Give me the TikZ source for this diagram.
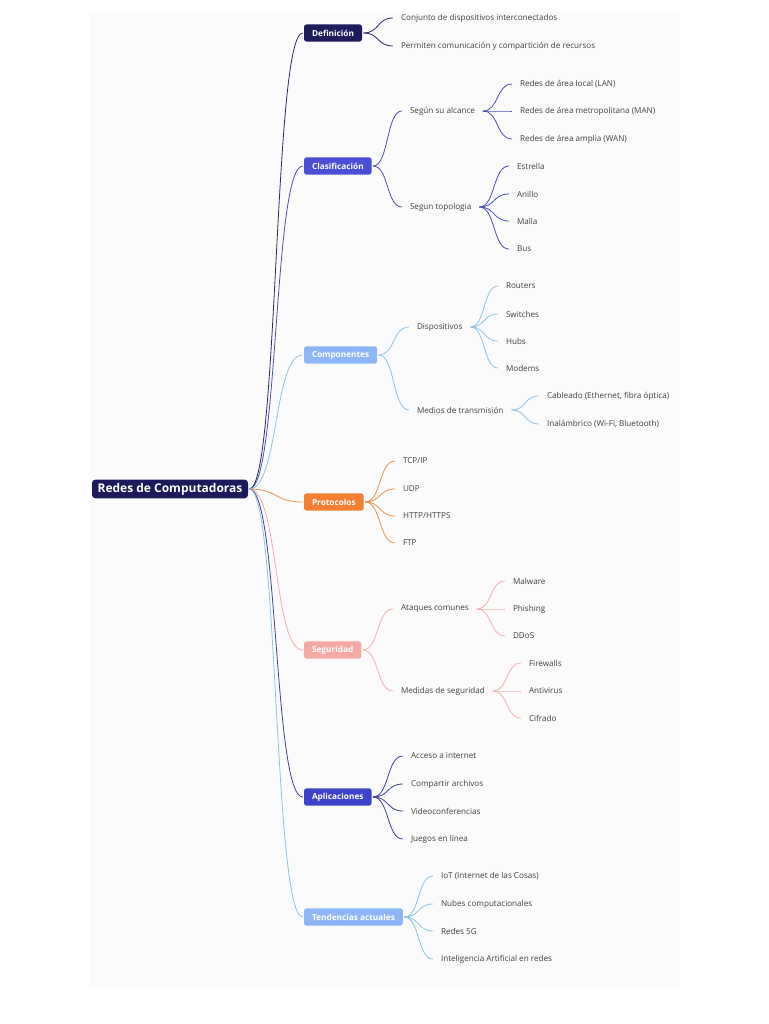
\documentclass[tikz,border=0pt]{standalone}
\usepackage{fontspec}
\setmainfont{Open Sans}
\usetikzlibrary{calc}
\definecolor{rootc}{HTML}{1C1A5A}
\definecolor{defc}{HTML}{1F1C5E}
\definecolor{defl}{HTML}{2A2860}
\definecolor{clac}{HTML}{4A4ED4}
\definecolor{clal}{HTML}{4A4EB8}
\definecolor{comc}{HTML}{8DB6F7}
\definecolor{coml}{HTML}{8FC4E6}
\definecolor{proc}{HTML}{F47F33}
\definecolor{prol}{HTML}{EE9350}
\definecolor{segc}{HTML}{F5A9A3}
\definecolor{segl}{HTML}{F0B2AA}
\definecolor{aplc}{HTML}{3D43C8}
\definecolor{apll}{HTML}{3C3F9C}
\definecolor{tenc}{HTML}{8DB6F7}
\definecolor{tenl}{HTML}{8CC4E0}
\definecolor{txt}{HTML}{404040}
\definecolor{bgc}{HTML}{FBFBFB}
\newcommand\lnk[3]{\draw[#1] let \p1=(#2), \p2=(#3), \n1={0.55*(\x2-\x1)} in (\p1) .. controls +(\n1,0) and +(-\n1,0) .. (\p2);}
\tikzset{
  x=0.75pt, y=-0.75pt,
  rootbox/.style={rounded corners=2.5pt, fill=rootc, text=white, font=\fontsize{9}{10}\selectfont\bfseries, minimum width=117pt, minimum height=14pt, inner sep=0pt, outer xsep=1pt},
  mainbox/.style={rounded corners=2pt, fill=#1, text=white, font=\fontsize{6.2}{7}\selectfont\bfseries, minimum height=13pt, inner xsep=6pt, inner ysep=0pt, anchor=west, outer xsep=1pt, xshift=-1pt},
  leaf/.style={text=txt, font=\fontsize{6.1}{7}\selectfont, inner sep=0pt, anchor=west, outer xsep=6pt, xshift=-6pt},
  wire/.style={draw=#1, line width=0.6pt},
}
\begin{document}
\begin{tikzpicture}
\useasboundingbox (0,0) rectangle (768,1024);
\fill[bgc] (90,12) rectangle (680,988);
% root
\node[rootbox] (R) at (170,489) {Redes de Computadoras};
% main branches
\node[mainbox=defc] (D) at (304,33) {Definición};
\node[mainbox=clac] (C) at (304,166) {Clasificación};
\node[mainbox=comc] (M) at (304,355) {Componentes};
\node[mainbox=proc] (P) at (304,502) {Protocolos};
\node[mainbox=segc] (S) at (304,650) {Seguridad};
\node[mainbox=aplc] (A) at (304,797) {Aplicaciones};
\node[mainbox=tenc] (T) at (304,917) {Tendencias actuales};
\lnk{wire=defl}{R.east}{D.west}
\lnk{wire=clal}{R.east}{C.west}
\lnk{wire=coml}{R.east}{M.west}
\lnk{wire=prol}{R.east}{P.west}
\lnk{wire=segl}{R.east}{S.west}
\lnk{wire=apll}{R.east}{A.west}
\lnk{wire=tenl}{R.east}{T.west}
% Definicion
\node[leaf] (d1) at (401,18) {Conjunto de dispositivos interconectados};
\node[leaf] (d2) at (401,46) {Permiten comunicación y compartición de recursos};
\foreach \c in {d1,d2} {\lnk{wire=defl}{D.east}{\c.west}}
% Clasificacion
\node[leaf] (sa) at (410,111) {Según su alcance};
\node[leaf] (st) at (410,207) {Segun topologia};
\foreach \c in {sa,st} {\lnk{wire=clal}{C.east}{\c.west}}
\node[leaf] (sa1) at (520,84) {Redes de área local (LAN)};
\node[leaf] (sa2) at (520,111) {Redes de área metropolitana (MAN)};
\node[leaf] (sa3) at (520,139) {Redes de área amplia (WAN)};
\foreach \c in {sa1,sa2,sa3} {\lnk{wire=clal}{sa.east}{\c.west}}
\node[leaf] (st1) at (517,166) {Estrella};
\node[leaf] (st2) at (517,194) {Anillo};
\node[leaf] (st3) at (517,221) {Malla};
\node[leaf] (st4) at (517,249) {Bus};
\foreach \c in {st1,st2,st3,st4} {\lnk{wire=clal}{st.east}{\c.west}}
% Componentes
\node[leaf] (dv) at (417,327) {Dispositivos};
\node[leaf] (mt) at (417,410) {Medios de transmisión};
\foreach \c in {dv,mt} {\lnk{wire=coml}{M.east}{\c.west}}
\node[leaf] (dv1) at (506,286) {Routers};
\node[leaf] (dv2) at (506,314) {Switches};
\node[leaf] (dv3) at (506,341) {Hubs};
\node[leaf] (dv4) at (506,368) {Modems};
\foreach \c in {dv1,dv2,dv3,dv4} {\lnk{wire=coml}{dv.east}{\c.west}}
\node[leaf] (mt1) at (547,396) {Cableado (Ethernet, fibra óptica)};
\node[leaf] (mt2) at (547,424) {Inalámbrico (Wi-Fi, Bluetooth)};
\foreach \c in {mt1,mt2} {\lnk{wire=coml}{mt.east}{\c.west}}
% Protocolos
\node[leaf] (p1) at (403,461) {TCP/IP};
\node[leaf] (p2) at (403,489) {UDP};
\node[leaf] (p3) at (403,516) {HTTP/HTTPS};
\node[leaf] (p4) at (403,543) {FTP};
\foreach \c in {p1,p2,p3,p4} {\lnk{wire=prol}{P.east}{\c.west}}
% Seguridad
\node[leaf] (ac) at (401,609) {Ataques comunes};
\node[leaf] (ms) at (401,691) {Medidas de seguridad};
\foreach \c in {ac,ms} {\lnk{wire=segl}{S.east}{\c.west}}
\node[leaf] (ac1) at (513,581) {Malware};
\node[leaf] (ac2) at (513,609) {Phishing};
\node[leaf] (ac3) at (513,636) {DDoS};
\foreach \c in {ac1,ac2,ac3} {\lnk{wire=segl}{ac.east}{\c.west}}
\node[leaf] (ms1) at (529,663) {Firewalls};
\node[leaf] (ms2) at (529,691) {Antivirus};
\node[leaf] (ms3) at (529,718) {Cifrado};
\foreach \c in {ms1,ms2,ms3} {\lnk{wire=segl}{ms.east}{\c.west}}
% Aplicaciones
\node[leaf] (a1) at (411,756) {Acceso a internet};
\node[leaf] (a2) at (411,784) {Compartir archivos};
\node[leaf] (a3) at (411,811) {Videoconferencias};
\node[leaf] (a4) at (411,839) {Juegos en línea};
\foreach \c in {a1,a2,a3,a4} {\lnk{wire=apll}{A.east}{\c.west}}
% Tendencias
\node[leaf] (t1) at (441,876) {IoT (Internet de las Cosas)};
\node[leaf] (t2) at (441,904) {Nubes computacionales};
\node[leaf] (t3) at (441,931) {Redes 5G};
\node[leaf] (t4) at (441,959) {Inteligencia Artificial en redes};
\foreach \c in {t1,t2,t3,t4} {\lnk{wire=tenl}{T.east}{\c.west}}
\end{tikzpicture}
\end{document}
